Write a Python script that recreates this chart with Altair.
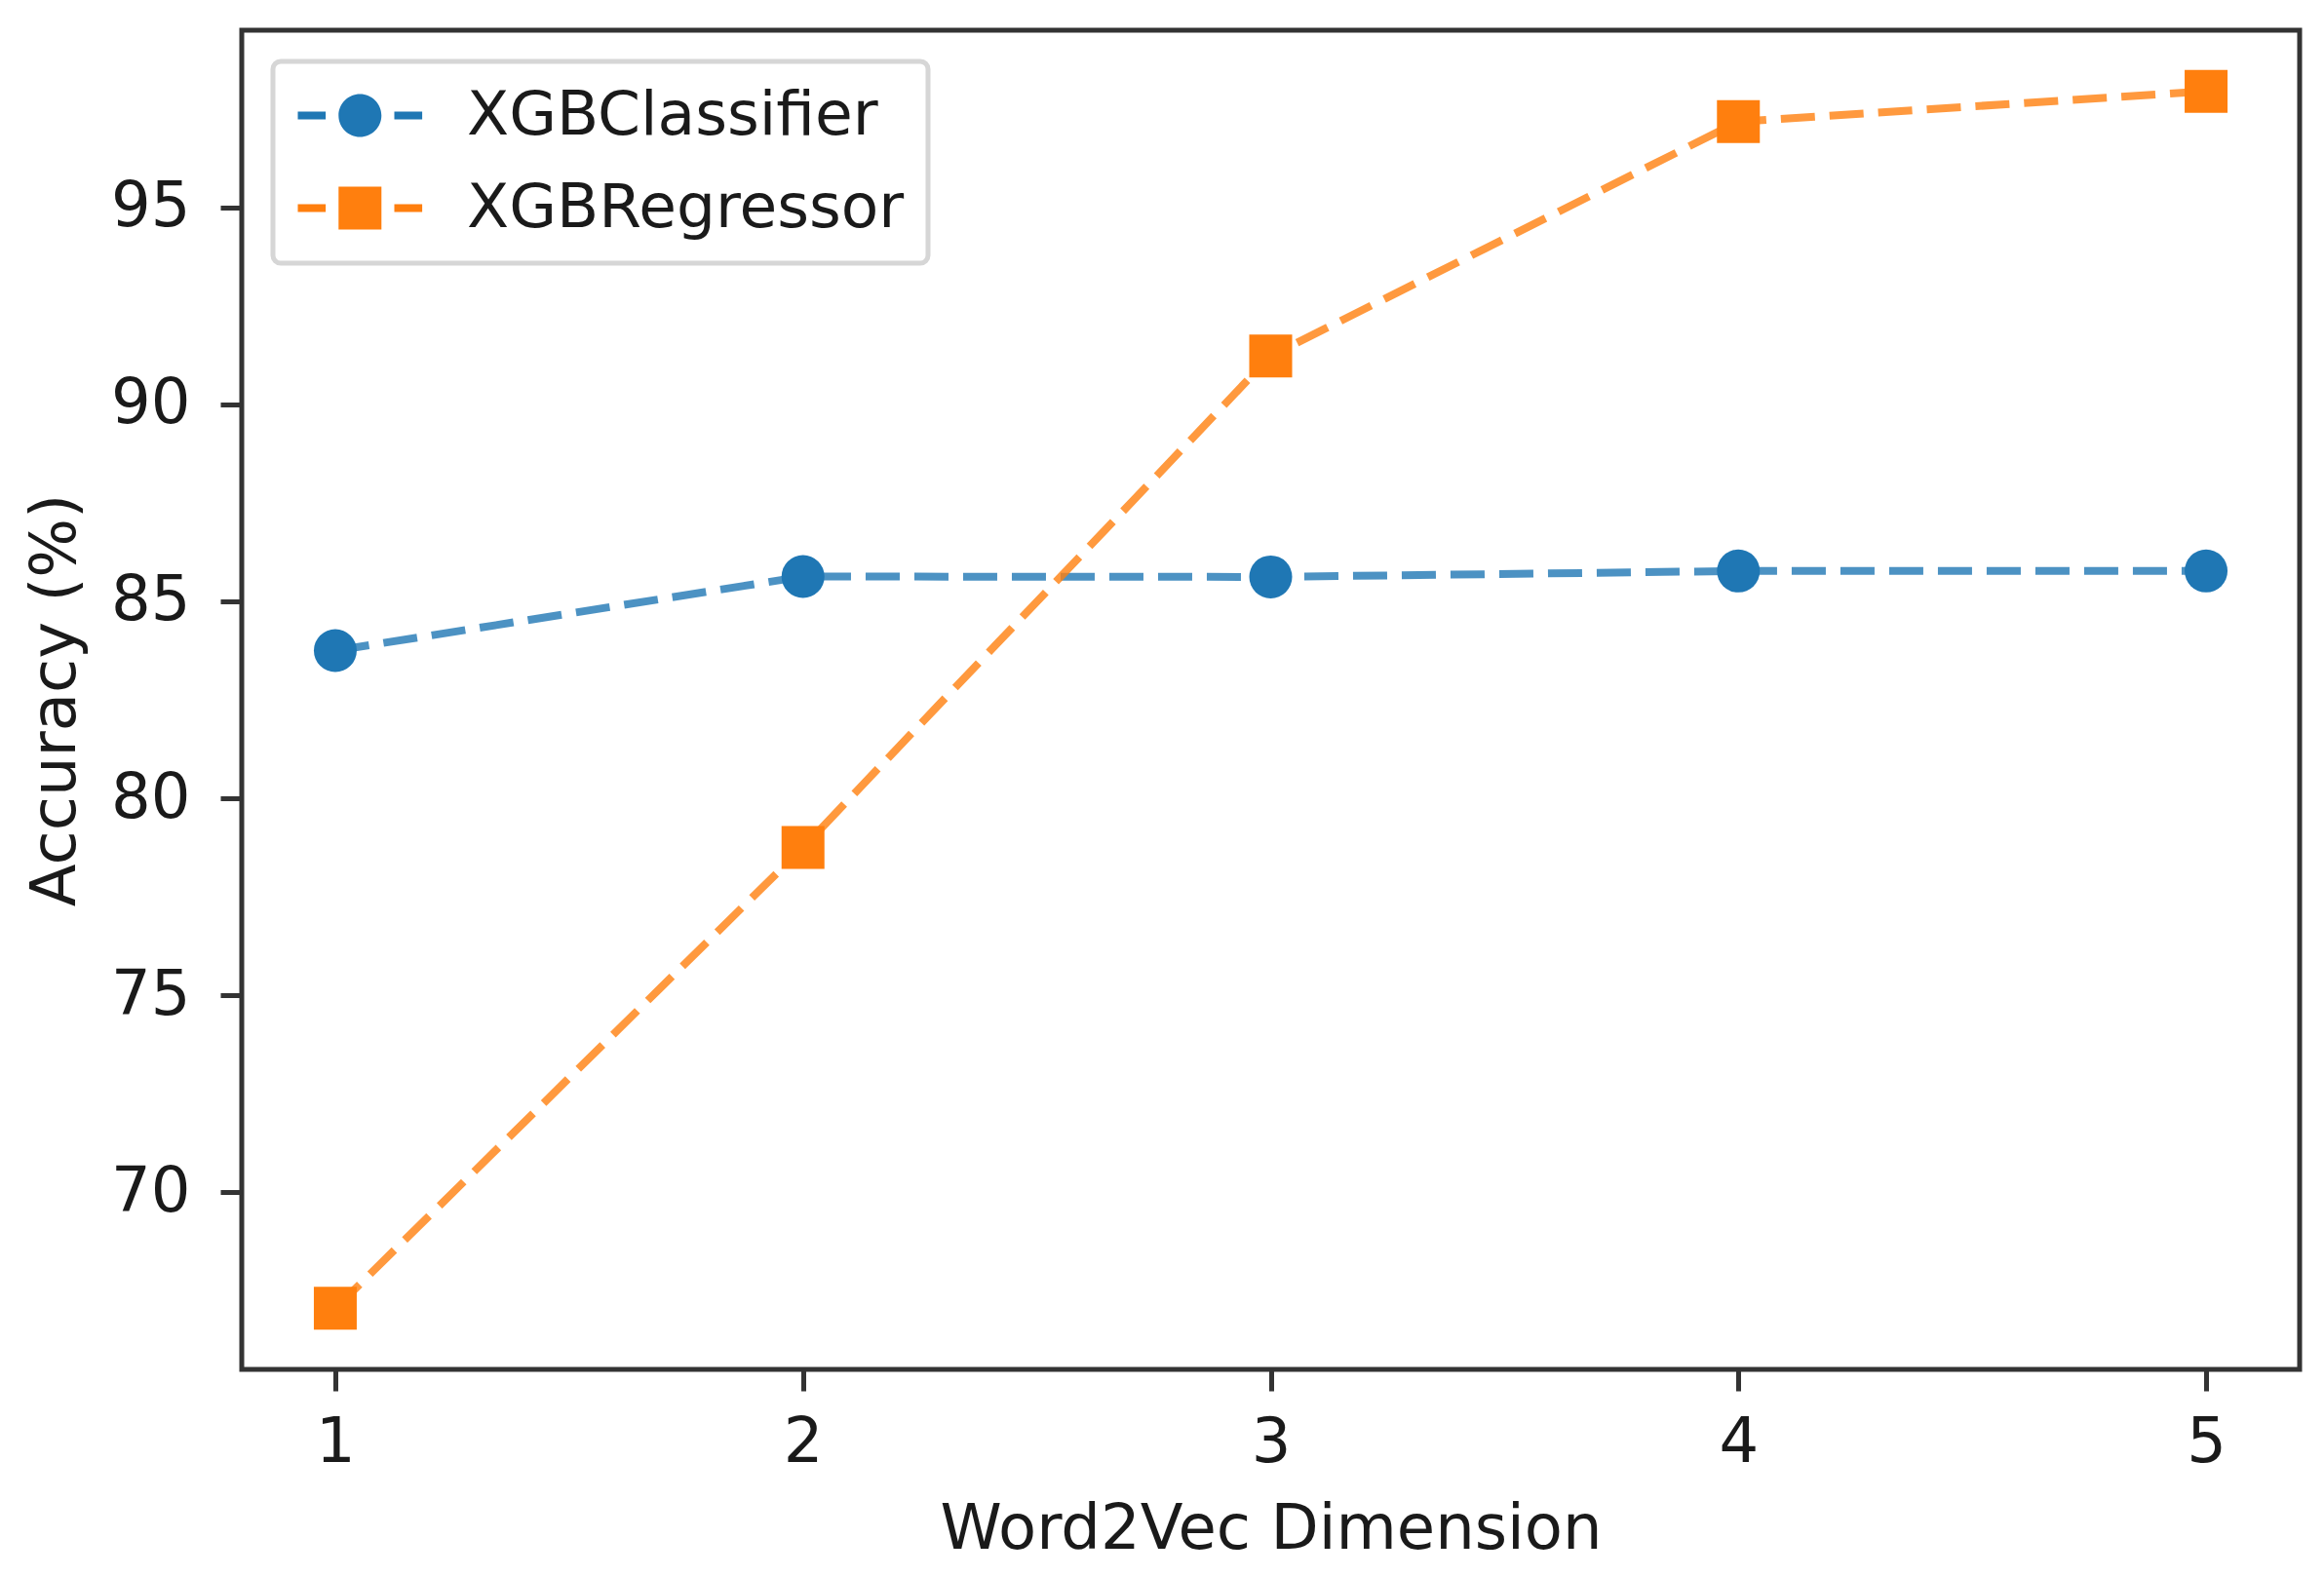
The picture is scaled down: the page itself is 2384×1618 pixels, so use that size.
import altair as alt
import pandas as pd

dims = [1, 2, 3, 4, 5]
clf_acc = [83.75, 85.63, 85.62, 85.77, 85.77]
reg_acc = [67.05, 78.75, 91.23, 97.18, 97.95]
series = ["XGBClassifier", "XGBRegressor"]
colors = ["#1f77b4", "#ff7f0e"]
y_ticks = [70, 75, 80, 85, 90, 95]

rows = []
for d, v in zip(dims, clf_acc):
    rows.append({"dim": d, "acc": v, "series": series[0]})
for d, v in zip(dims, reg_acc):
    rows.append({"dim": d, "acc": v, "series": series[1]})
df = pd.DataFrame(rows)

FONT = "DejaVu Sans"
TXT = "#1a1a1a"

x_enc = alt.X(
    "dim:Q",
    scale=alt.Scale(domain=[0.8, 5.2], nice=False, zero=False),
    axis=alt.Axis(
        values=dims, format="d", title="Word2Vec Dimension", grid=False, domain=False,
        tickSize=22, tickWidth=5, tickColor="#333333",
        labelFontSize=64, labelPadding=21, labelColor=TXT, labelFont=FONT,
        titleFontSize=64, titleFontWeight="normal", titleColor=TXT, titleFont=FONT,
        titleY=183, titleBaseline="alphabetic",
    ),
)
y_enc = alt.Y(
    "acc:Q",
    scale=alt.Scale(domain=[65.5, 99.5], nice=False, zero=False),
    axis=alt.Axis(
        values=y_ticks, format="d", title="Accuracy (%)", grid=False, domain=False,
        tickSize=22, tickWidth=5, tickColor="#333333",
        labelFontSize=64, labelPadding=31, labelColor=TXT, labelFont=FONT,
        titleFontSize=64, titleFontWeight="normal", titleColor=TXT, titleFont=FONT,
        titleX=-172, titleY=687, titleAngle=270, titleAlign="center",
        titleBaseline="alphabetic",
    ),
)

base = alt.Chart(df)

dash = "M-1,-0.18 H0.3 V0.18 H-1 Z M3.5,-0.18 H4.8 V0.18 H3.5 Z "
circle_sym = dash + "M2.9,0 A1,1 0 1,1 0.9,0 A1,1 0 1,1 2.9,0 Z"
square_sym = dash + "M0.9,-1 H2.9 V1 H0.9 Z"

leg = alt.Legend(
    title=None, orient="none", legendX=32, legendY=32,
    fillColor="white", strokeColor="#d6d6d6", cornerRadius=8,
    padding=24, symbolSize=1936, symbolStrokeWidth=0, symbolOpacity=1,
    symbolOffset=-8,
    labelFontSize=63, labelFont=FONT, labelColor=TXT, labelOffset=120,
    rowPadding=31, labelLimit=1000,
)

# invisible layer that only carries the legend
legend_layer = base.mark_point(filled=True, opacity=0, size=1).encode(
    x=x_enc, y=y_enc,
    color=alt.Color("series:N", scale=alt.Scale(domain=series, range=colors), legend=leg),
    shape=alt.Shape("series:N", scale=alt.Scale(domain=series, range=[circle_sym, square_sym]), legend=leg),
)

lines = base.mark_line(strokeDash=[35, 15], strokeWidth=8, opacity=0.8).encode(
    x=x_enc, y=y_enc,
    stroke=alt.Stroke("series:N", scale=alt.Scale(domain=series, range=colors), legend=None),
)

pts_c = base.transform_filter(alt.datum.series == series[0]).mark_point(
    shape="circle", filled=True, size=1936, opacity=1, strokeWidth=0, color=colors[0]
).encode(x=x_enc, y=y_enc)

pts_s = base.transform_filter(alt.datum.series == series[1]).mark_point(
    shape="square", filled=True, size=1936, opacity=1, strokeWidth=0, color=colors[1]
).encode(x=x_enc, y=y_enc)

chart = alt.layer(legend_layer, lines, pts_c, pts_s).properties(
    width=2111, height=1374,
    background="white",
    autosize=alt.AutoSizeParams(type="none"),
    padding={"left": 240, "top": 23, "right": 10, "bottom": 203},
).configure_view(stroke="#333333", strokeWidth=5).configure_legend(strokeWidth=5)

chart.save("out.html", embed_options={"renderer": "svg", "actions": False})
